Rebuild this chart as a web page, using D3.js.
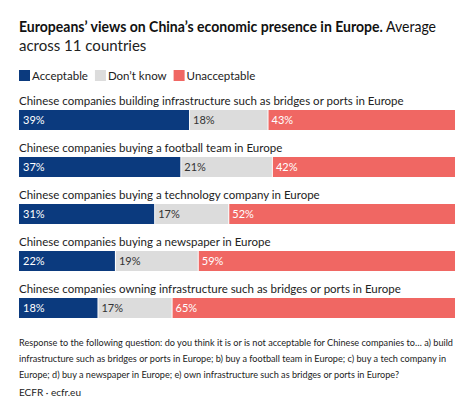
<!DOCTYPE html>
<html><head><meta charset="utf-8">
<script src="https://cdn.jsdelivr.net/npm/d3@7"></script>
<style>body{margin:0;background:#fff}text{font-family:Lato,sans-serif}</style>
</head><body><svg id="c" width="474" height="409"></svg>
<script>
const questions = [
  "Chinese companies building infrastructure such as bridges or ports in Europe",
  "Chinese companies buying a football team in Europe",
  "Chinese companies buying a technology company in Europe",
  "Chinese companies buying a newspaper in Europe",
  "Chinese companies owning infrastructure such as bridges or ports in Europe"
]
const acceptable = [39, 37, 31, 22, 18]
const dontKnow = [18, 21, 17, 19, 17]
const unacceptable = [43, 42, 52, 59, 65]
const seriesNames = ["Acceptable", "Don\u2019t know", "Unacceptable"]
const colors = ["#0b3a7e", "#dcdcdc", "#f06763"]
const textColors = ["#fff", "#333", "#fff"]

const svg = d3.select("#c")
svg.append("text").attr("x", 19).attr("y", 32).attr("font-size", 15).attr("fill", "#111")
  .attr("textLength", 417).attr("lengthAdjust", "spacingAndGlyphs")
  .html('<tspan font-weight="bold">Europeans\u2019 views on China\u2019s economic presence in Europe.</tspan> Average')
svg.append("text").attr("x", 19).attr("y", 51).attr("font-size", 15).attr("fill", "#222").text("across 11 countries")

let lx = 19
seriesNames.forEach((n, i) => {
  svg.append("rect").attr("x", lx).attr("y", 70).attr("width", 11).attr("height", 11).attr("fill", colors[i])
  const t = svg.append("text").attr("x", lx + 13).attr("y", 80).attr("font-size", 11.5).attr("fill", "#222").text(n)
  lx += 13 + t.node().getComputedTextLength() + 7
})

const x = d3.scaleLinear().domain([0, 100]).range([19, 455])
const y = d3.scaleBand().domain(d3.range(questions.length)).range([92, 327]).padding(0)

questions.forEach((q, i) => {
  const g = svg.append("g").attr("transform", `translate(0,${y(i)})`)
  g.append("text").attr("x", 19).attr("y", 13).attr("font-size", 11.5).attr("fill", "#222").text(q)
  const vals = [acceptable[i], dontKnow[i], unacceptable[i]]
  let start = 0
  vals.forEach((v, k) => {
    g.append("rect").attr("x", x(start) + (k ? 1 : 0)).attr("y", 18)
      .attr("width", x(start + v) - x(start) - (k ? 1 : 0)).attr("height", 20).attr("fill", colors[k])
    g.append("text").attr("x", x(start) + 4).attr("y", 32).attr("font-size", 11)
      .attr("fill", textColors[k]).text(v + "%")
    start += v
  })
})

const notes = [
  "Response to the following question: do you think it is or is not acceptable for Chinese companies to\u2026 a) build",
  "infrastructure such as bridges or ports in Europe; b) buy a football team in Europe; c) buy a tech company in",
  "Europe; d) buy a newspaper in Europe; e) own infrastructure such as bridges or ports in Europe?"
]
const noteLen = [434, 427, 380]
notes.forEach((n, i) => svg.append("text").attr("x", 19).attr("y", 346 + i * 16).attr("font-size", 10)
  .attr("textLength", noteLen[i]).attr("lengthAdjust", "spacingAndGlyphs").attr("fill", "#222").text(n))
svg.append("text").attr("x", 19).attr("y", 396).attr("font-size", 10).attr("fill", "#222").text("ECFR \u00b7 ecfr.eu")
</script></body></html>
